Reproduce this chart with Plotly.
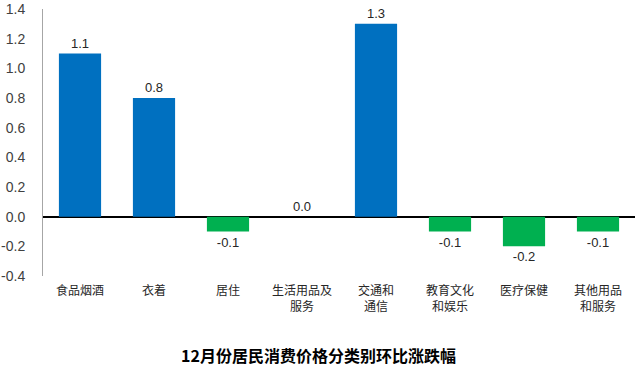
import plotly.graph_objects as go

categories = ["食品烟酒", "衣着", "居住", "生活用品及<br>服务", "交通和<br>通信", "教育文化<br>和娱乐", "医疗保健", "其他用品<br>和服务"]
values = [1.1, 0.8, -0.1, 0.0, 1.3, -0.1, -0.2, -0.1]
y_ticks = [-0.4, -0.2, 0.0, 0.2, 0.4, 0.6, 0.8, 1.0, 1.2, 1.4]
title_text = "12月份居民消费价格分类别环比涨跌幅"

colors = ["#0070C0" if v >= 0 else "#00B050" for v in values]

fig = go.Figure()
fig.add_trace(go.Bar(
    x=list(range(len(categories))),
    y=values,
    marker=dict(color=colors, line=dict(width=0)),
    width=0.57,
    text=[f"{v:.1f}" for v in values],
    textposition="outside",
    textfont=dict(family="Liberation Sans, Arial", size=13, color="#262626"),
    cliponaxis=False,
))

fig.update_layout(
    width=643, height=369,
    margin=dict(l=43, r=8, t=9, b=93, autoexpand=False),
    paper_bgcolor="white", plot_bgcolor="white",
    showlegend=False,
    xaxis=dict(
        range=[-0.5, len(categories) - 0.5],
        tickmode="array",
        tickvals=list(range(len(categories))),
        ticktext=categories,
        showline=False, showgrid=False, zeroline=False,
        ticks="",
        automargin=False,
        ticklabelstandoff=6,
        tickfont=dict(family="Noto Sans CJK SC", size=12, color="#262626"),
    ),
    yaxis=dict(
        range=[-0.4, 1.4],
        tickmode="array",
        tickvals=y_ticks,
        ticktext=[f"{t:.1f}" for t in y_ticks],
        showgrid=False,
        zeroline=True, zerolinecolor="black", zerolinewidth=2,
        showline=True, linecolor="#A6A6A6", linewidth=1,
        ticks="",
        automargin=False,
        ticklabelstandoff=14,
        ticklabeloverflow="allow",
        tickfont=dict(family="Liberation Sans, Arial", size=14, color="#404040"),
    ),
    annotations=[dict(
        text="<b>" + title_text + "</b>",
        xref="paper", yref="paper", x=0.466, y=-0.295,
        xanchor="center", yanchor="middle", showarrow=False,
        font=dict(family="Noto Sans CJK SC", size=16, color="black"),
    )],
)

fig.write_html("out.html")
